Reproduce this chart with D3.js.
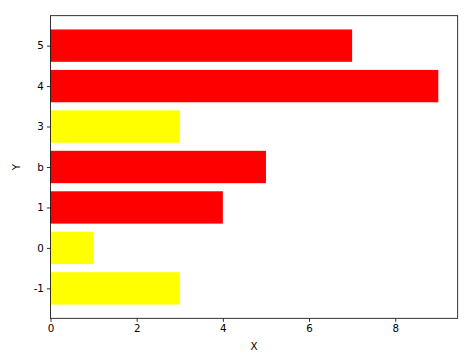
<!DOCTYPE html>
<html><head><meta charset="utf-8">
<script src="https://cdn.jsdelivr.net/npm/d3@7"></script>
<style>body{margin:0;background:#fff}svg{display:block}text{font-family:"DejaVu Sans",sans-serif}</style>
</head><body>
<script>
const categories = ["-1","0","1","b","3","4","5"];
const values = [3,1,4,5,3,9,7];
const colors = ["yellow","yellow","red","red","yellow","red","red"];
const xTicks = [0,2,4,6,8];

const W=474,H=354, L=50.5, R=457.7, T=15.7, B=318.3;
const svg=d3.select("body").append("svg").attr("width",W).attr("height",H);
const x=d3.scaleLinear().domain([0,9.45]).range([L,R]);
const yi=d3.scaleLinear().domain([-0.74,6.74]).range([B,T]);
const bh = yi(0)-yi(0.8);

svg.append("g").selectAll("rect").data(values).join("rect")
  .attr("x",x(0)).attr("y",(d,i)=>yi(i+0.4))
  .attr("width",d=>x(d)-x(0)).attr("height",bh)
  .attr("fill",(d,i)=>colors[i]);

const fs="10.3px";
const xa=svg.append("g").attr("transform",`translate(0,${B})`)
  .call(d3.axisBottom(x).tickValues(xTicks).tickFormat(d3.format("d")).tickSize(3.6).tickPadding(3));
const yband=d3.scalePoint().domain(categories).range([yi(0),yi(6)]);
const ya=svg.append("g").attr("transform",`translate(${L},0)`)
  .call(d3.axisLeft(yband).tickSize(3.6).tickPadding(3));
[xa,ya].forEach(a=>{a.select(".domain").remove();a.selectAll("text").style("font-size",fs).attr("fill","#000");a.selectAll("line").attr("stroke","#000").attr("stroke-width",0.8);});

svg.append("rect").attr("x",L).attr("y",T).attr("width",R-L).attr("height",B-T)
  .attr("fill","none").attr("stroke","#000").attr("stroke-width",0.8);

svg.append("text").attr("x",(L+R)/2).attr("y",350).attr("text-anchor","middle").style("font-size",fs).text("X");
svg.append("text").attr("transform",`translate(20,${(T+B)/2}) rotate(-90)`).attr("text-anchor","middle").style("font-size",fs).text("Y");
</script>
</body></html>
